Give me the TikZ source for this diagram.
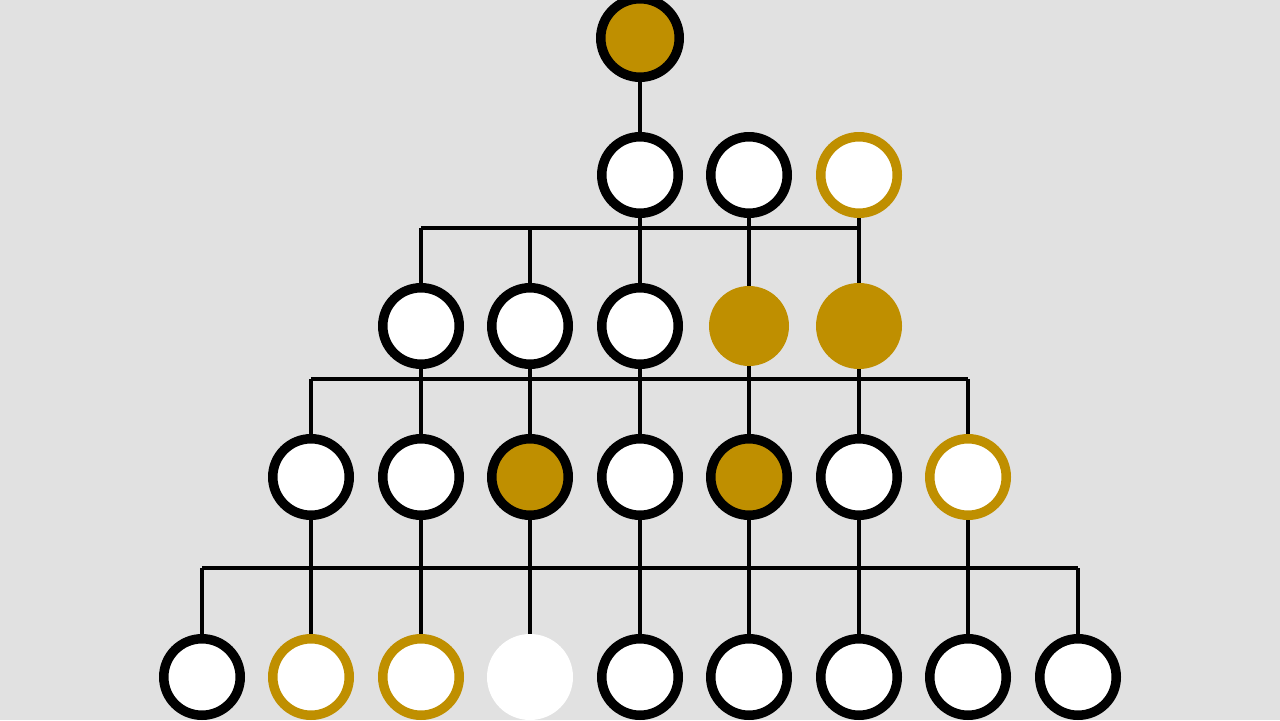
\documentclass[tikz,border=0pt]{standalone}
\definecolor{gold}{RGB}{191,143,0}
\definecolor{backdrop}{RGB}{225,225,225}

\begin{document}
\begin{tikzpicture}[
    x=0.02cm,
    y=-0.02cm,
    person/.style={
        circle,
        minimum size=1.53cm,
        inner sep=0pt,
        line width=0.19cm,
        draw=black,
        fill=white
    },
    carrier/.style={person, fill=gold},
    ring/.style={person, draw=gold},
    full/.style={person, draw=gold, fill=gold},
    spot/.style={person, draw=none, fill=gold, minimum size=1.6cm, outer sep=0pt},
    blank/.style={person, draw=white},
    link/.style={
        line width=0.07cm,
        black
    }
]

% Background
\useasboundingbox (0,0) rectangle (1280,720);
\fill[backdrop] (0,0) rectangle (1280,720);
\clip (0,0) rectangle (1280,720);

% Generation I
\node[carrier, minimum size=1.57cm] (a1) at (640,38) {};

% Generation II
\node[person] (b1) at (640,175) {};
\node[person] (b2) at (749,175) {};
\node[ring] (b3) at (859,175) {};

% Generation III
\node[person] (c1) at (421,326) {};
\node[person] (c2) at (530,326) {};
\node[person] (c3) at (640,326) {};
\node[spot] (c4) at (749,326) {};
\node[full] (c5) at (859,326) {};

% Generation IV
\node[person] (d1) at (311,477) {};
\node[person] (d2) at (421,477) {};
\node[carrier] (d3) at (530,477) {};
\node[person] (d4) at (640,477) {};
\node[carrier] (d5) at (749,477) {};
\node[person] (d6) at (859,477) {};
\node[ring] (d7) at (968,477) {};

% Generation V
\node[person] (e1) at (202,677) {};
\node[ring] (e2) at (311,677) {};
\node[ring] (e3) at (421,677) {};
\node[blank] (e4) at (530,677) {};
\node[person] (e5) at (640,677) {};
\node[person] (e6) at (749,677) {};
\node[person] (e7) at (859,677) {};
\node[person] (e8) at (968,677) {};
\node[person] (e9) at (1078,677) {};

% Sibship lines
\coordinate (bus1) at (640,228);
\coordinate (bus2) at (640,379);
\coordinate (bus3) at (640,568);
\draw[link] (c1 |- bus1) -- (b3 |- bus1);
\draw[link] (d1 |- bus2) -- (d7 |- bus2);
\draw[link] (e1 |- bus3) -- (e9 |- bus3);

% Descent lines
\foreach \u/\v in {a1/b1, b1/c3, b2/c4, b3/c5,
                   c1/d2, c2/d3, c3/d4, c4/d5, c5/d6,
                   d1/e2, d2/e3, d3/e4, d4/e5, d5/e6, d6/e7, d7/e8}
    \draw[link] (\u) -- (\v);
\foreach \v/\b in {c1/bus1, c2/bus1, d1/bus2, d7/bus2, e1/bus3, e9/bus3}
    \draw[link] (\v.north) -- (\v |- \b);

\end{tikzpicture}
\end{document}
